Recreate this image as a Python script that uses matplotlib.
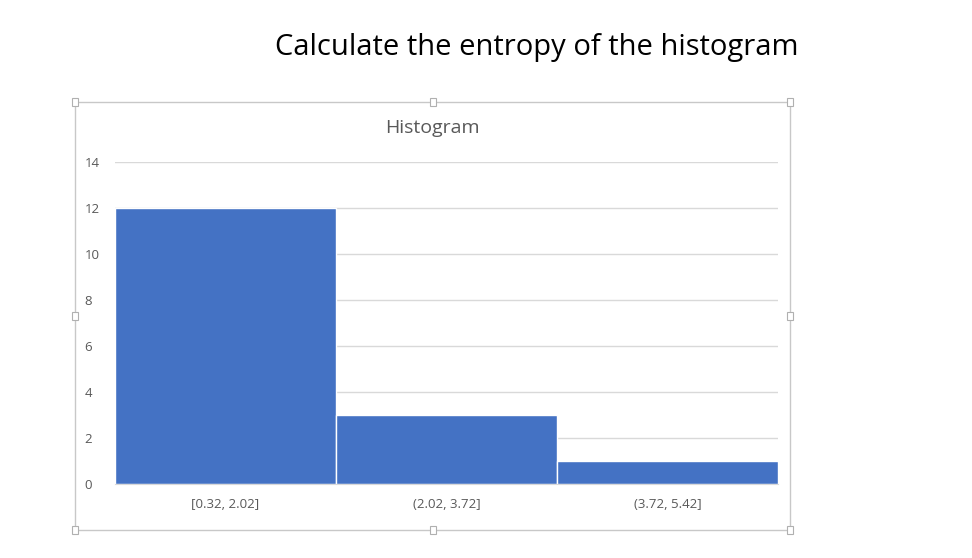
import matplotlib
matplotlib.use("Agg")
import matplotlib.pyplot as plt
from matplotlib.patches import Rectangle

# data
bins = ["[0.32, 2.02]", "(2.02, 3.72]", "(3.72, 5.42]"]
counts = [12, 3, 1]
yticks = [0, 2, 4, 6, 8, 10, 12, 14]

plt.rcParams['font.family'] = ['Open Sans', 'DejaVu Sans']

W, H = 972, 558
fig = plt.figure(figsize=(W / 100, H / 100), dpi=100)

# slide title
fig.text(537 / W, 1 - 48 / H, "Calculate the entropy of the histogram",
         ha="center", va="center", fontsize=21, color="black")

# chart frame with handles
fx0, fy0, fx1, fy1 = 75, 102, 790, 530
fig.patches.append(Rectangle((fx0 / W, 1 - fy1 / H), (fx1 - fx0) / W, (fy1 - fy0) / H,
                             transform=fig.transFigure, fill=False,
                             edgecolor="#c8c8c8", linewidth=1))
for hx in (fx0, (fx0 + fx1) / 2, fx1):
    for hy in (fy0, (fy0 + fy1) / 2, fy1):
        if hx == (fx0 + fx1) / 2 and hy == (fy0 + fy1) / 2:
            continue
        fig.patches.append(Rectangle(((hx - 3) / W, 1 - (hy + 4) / H), 6 / W, 8 / H,
                                     transform=fig.transFigure, facecolor="white",
                                     edgecolor="#b0b0b0", linewidth=0.8))

# chart title
fig.text(432 / W, 1 - 128 / H, "Histogram", ha="center", va="center",
         fontsize=14, color="#595959")

ax = fig.add_axes([115 / W, 1 - 484 / H, (778 - 115) / W, (484 - 162) / H])
x = range(len(bins))
ax.bar(x, counts, width=1.0, color="#4472c4", edgecolor="white", linewidth=1, zorder=2)
ax.set_xlim(-0.5, len(bins) - 0.5)
ax.set_ylim(0, 14)
ax.set_yticks(yticks)
ax.set_xticks(list(x))
ax.set_xticklabels(bins)
ax.tick_params(axis="both", length=0, labelsize=9.5, colors="#595959")
ax.tick_params(axis="x", pad=10)
ax.tick_params(axis="y", pad=22)
for lab in ax.get_yticklabels():
    lab.set_horizontalalignment("left")
ax.grid(axis="y", color="#d9d9d9", linewidth=1, zorder=0)
for s in ["top", "right", "left"]:
    ax.spines[s].set_visible(False)
ax.spines["bottom"].set_color("#d9d9d9")

fig.savefig("out.png", dpi=100)
